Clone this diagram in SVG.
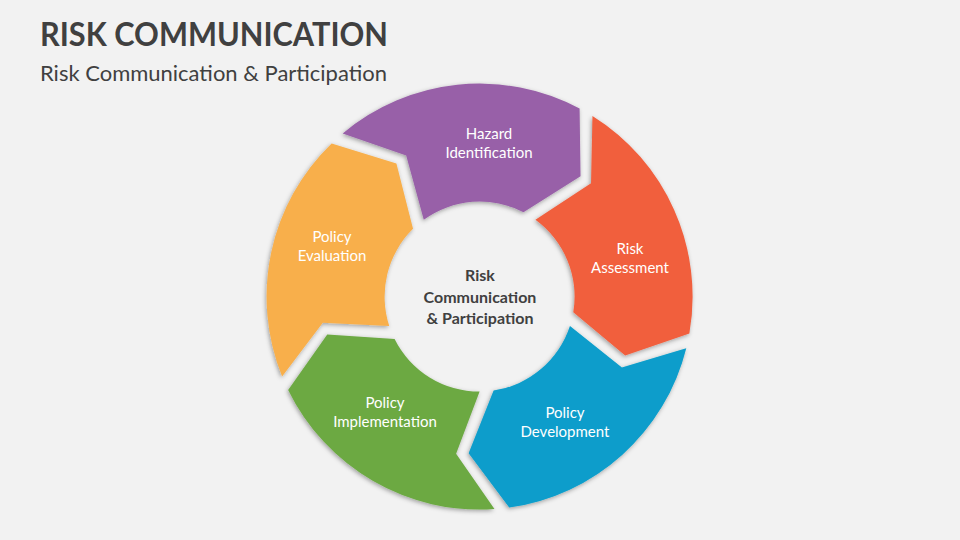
<svg xmlns="http://www.w3.org/2000/svg" width="960" height="540" viewBox="0 0 960 540">
<defs>
<filter id="sh" x="-20%" y="-20%" width="140%" height="140%">
<feDropShadow dx="-1" dy="1.5" stdDeviation="2" flood-color="#000" flood-opacity="0.35"/>
</filter>
<style>
.seg{filter:url(#sh);}
.lbl{font-family:Lato,"Open Sans","Liberation Sans",sans-serif;font-size:15px;fill:#fff;text-anchor:middle;}
.ctr{font-family:Lato,"Open Sans","Liberation Sans",sans-serif;font-size:16px;font-weight:bold;fill:#404040;text-anchor:middle;}
.ttl{font-family:Lato,"Open Sans","Liberation Sans",sans-serif;fill:#404040;}
</style>
</defs>
<rect width="960" height="540" fill="#F2F2F2"/>
<text class="ttl" x="40" y="46" font-size="32" font-weight="bold" textLength="348" lengthAdjust="spacingAndGlyphs">RISK COMMUNICATION</text>
<text class="ttl" x="40" y="81" font-size="22" textLength="347" lengthAdjust="spacingAndGlyphs">Risk Communication &amp; Participation</text>
<g id="connectors"></g>
<g id="hazard-identification">
<path class="seg" fill="#9860A8" d="M342.69,133.43 A213,213 0 0 1 579.60,108.53 L580.52,176.33 L523.47,212.33 A95,95 0 0 0 423.76,219.74 L406.18,155.57 Z"/>
<text class="lbl" x="489" y="139">Hazard</text>
<text class="lbl" x="489" y="158">Identification</text>
</g>
<g id="risk-assessment">
<path class="seg" fill="#F15F3D" d="M592.47,115.97 A213,213 0 0 1 689.36,333.59 L625.17,355.41 L573.30,312.28 A95,95 0 0 0 535.44,219.74 L591.04,183.19 Z"/>
<text class="lbl" x="630" y="254">Risk</text>
<text class="lbl" x="630" y="273">Assessment</text>
</g>
<g id="policy-development">
<path class="seg" fill="#089DCB" d="M686.27,348.13 A213,213 0 0 1 509.24,507.53 L468.65,453.22 L493.64,390.56 A95,95 0 0 0 569.95,325.96 L621.89,367.55 Z"/>
<text class="lbl" x="565" y="418">Policy</text>
<text class="lbl" x="565" y="437">Development</text>
</g>
<g id="policy-implementation">
<path class="seg" fill="#6CA943" d="M494.46,509.08 A213,213 0 0 1 288.16,389.97 L327.26,334.58 L394.58,338.99 A95,95 0 0 0 479.60,391.60 L456.10,453.85 Z"/>
<text class="lbl" x="385" y="408">Policy</text>
<text class="lbl" x="385" y="427">Implementation</text>
</g>
<g id="policy-evaluation">
<path class="seg" fill="#F8AF4B" d="M282.11,376.39 A213,213 0 0 1 331.64,143.38 L396.40,163.46 L413.01,228.84 A95,95 0 0 0 389.25,325.96 L322.78,322.84 Z"/>
<text class="lbl" x="332" y="242">Policy</text>
<text class="lbl" x="332" y="261">Evaluation</text>
</g>
<g id="center">
<text class="ctr" x="480" y="281">Risk</text>
<text class="ctr" x="480" y="303">Communication</text>
<text class="ctr" x="480" y="324">&amp; Participation</text>
</g>
</svg>
